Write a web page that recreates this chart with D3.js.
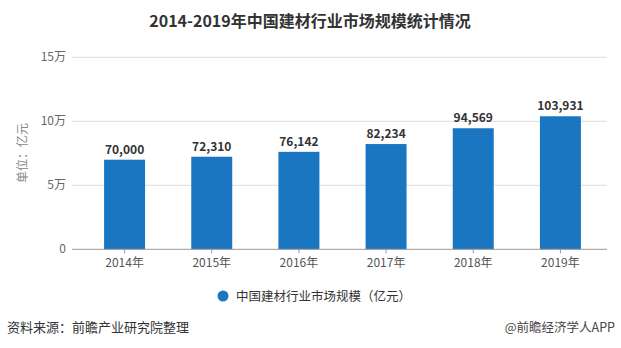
<!DOCTYPE html>
<html><head><meta charset="utf-8">
<script src="https://cdn.jsdelivr.net/npm/d3@7"></script>
<style>body{margin:0;background:#fff}svg{display:block}</style>
</head><body><div id="chart"></div>
<script>
const categories = ["2014年","2015年","2016年","2017年","2018年","2019年"];
const values = [70000, 72310, 76142, 82234, 94569, 103931];
const yTicks = [0, 50000, 100000, 150000];
const yTickLabels = ["0", "5万", "10万", "15万"];
const title = "2014-2019年中国建材行业市场规模统计情况";
const seriesName = "中国建材行业市场规模（亿元）";
const unitLabel = "单位：亿元";
const sourceText = "资料来源：前瞻产业研究院整理";
const brandText = "@前瞻经济学人APP";

const W = 621, H = 348;
const font = "'Microsoft YaHei','Noto Sans CJK SC','Noto Sans',sans-serif";
const svg = d3.select("#chart").append("svg").attr("width", W).attr("height", H)
  .style("font-family", font);

const x = d3.scaleBand().domain(categories).range([81, 604]).paddingInner(0.53).paddingOuter(0.265);
const y = d3.scaleLinear().domain([0, 150000]).range([249.3, 57.3]);
const gridL = 72, gridR = 607;

svg.append("text").attr("x", 310).attr("y", 27).attr("text-anchor", "middle")
  .attr("font-size", 16).attr("font-weight", "bold").attr("fill", "#333").text(title);

// grid
svg.append("g").selectAll("line").data(yTicks.slice(1)).join("line")
  .attr("x1", gridL).attr("x2", gridR).attr("y1", d => y(d)).attr("y2", d => y(d))
  .attr("stroke", "#ddd").attr("stroke-width", 1);

// y labels
svg.append("g").selectAll("text").data(yTicks).join("text")
  .attr("x", 66).attr("y", d => y(d) + 4).attr("text-anchor", "end")
  .attr("font-size", 12).attr("fill", "#666").text((d, i) => yTickLabels[i]);

svg.append("text").attr("transform", "translate(27,153) rotate(-90)")
  .attr("text-anchor", "middle").attr("font-size", 12).attr("fill", "#888").text(unitLabel);

// bars
svg.append("g").selectAll("rect").data(values).join("rect")
  .attr("x", (d, i) => x(categories[i])).attr("width", x.bandwidth())
  .attr("y", d => y(d)).attr("height", d => y(0) - y(d)).attr("fill", "#1a76c1");

svg.append("g").selectAll("text").data(values).join("text")
  .attr("x", (d, i) => x(categories[i]) + x.bandwidth() / 2).attr("y", d => y(d) - 6)
  .attr("text-anchor", "middle").attr("font-size", 12).attr("font-weight", "bold")
  .attr("fill", "#333").text(d => d3.format(",")(d));

// x axis
const xa = svg.append("g").attr("transform", `translate(0,${y(0)})`)
  .call(d3.axisBottom(x).tickSize(4).tickSizeOuter(0));
xa.select(".domain").remove();
xa.insert("line", ":first-child").attr("x1", gridL).attr("x2", gridR).attr("stroke", "#999");
xa.selectAll(".tick line").attr("stroke", "#999");
xa.selectAll(".tick text").attr("font-size", 12).attr("fill", "#555").attr("dy", "0.9em")
  .style("font-family", font);

// legend
svg.append("circle").attr("cx", 223).attr("cy", 296).attr("r", 5.5).attr("fill", "#1a76c1");
svg.append("text").attr("x", 236).attr("y", 300.5).attr("font-size", 12.5).attr("fill", "#333").text(seriesName);

// footer
svg.append("text").attr("x", 7).attr("y", 332).attr("font-size", 13).attr("fill", "#333").text(sourceText);
svg.append("text").attr("x", 615).attr("y", 332).attr("text-anchor", "end")
  .attr("font-size", 12.5).attr("fill", "#444").text(brandText);
</script></body></html>
